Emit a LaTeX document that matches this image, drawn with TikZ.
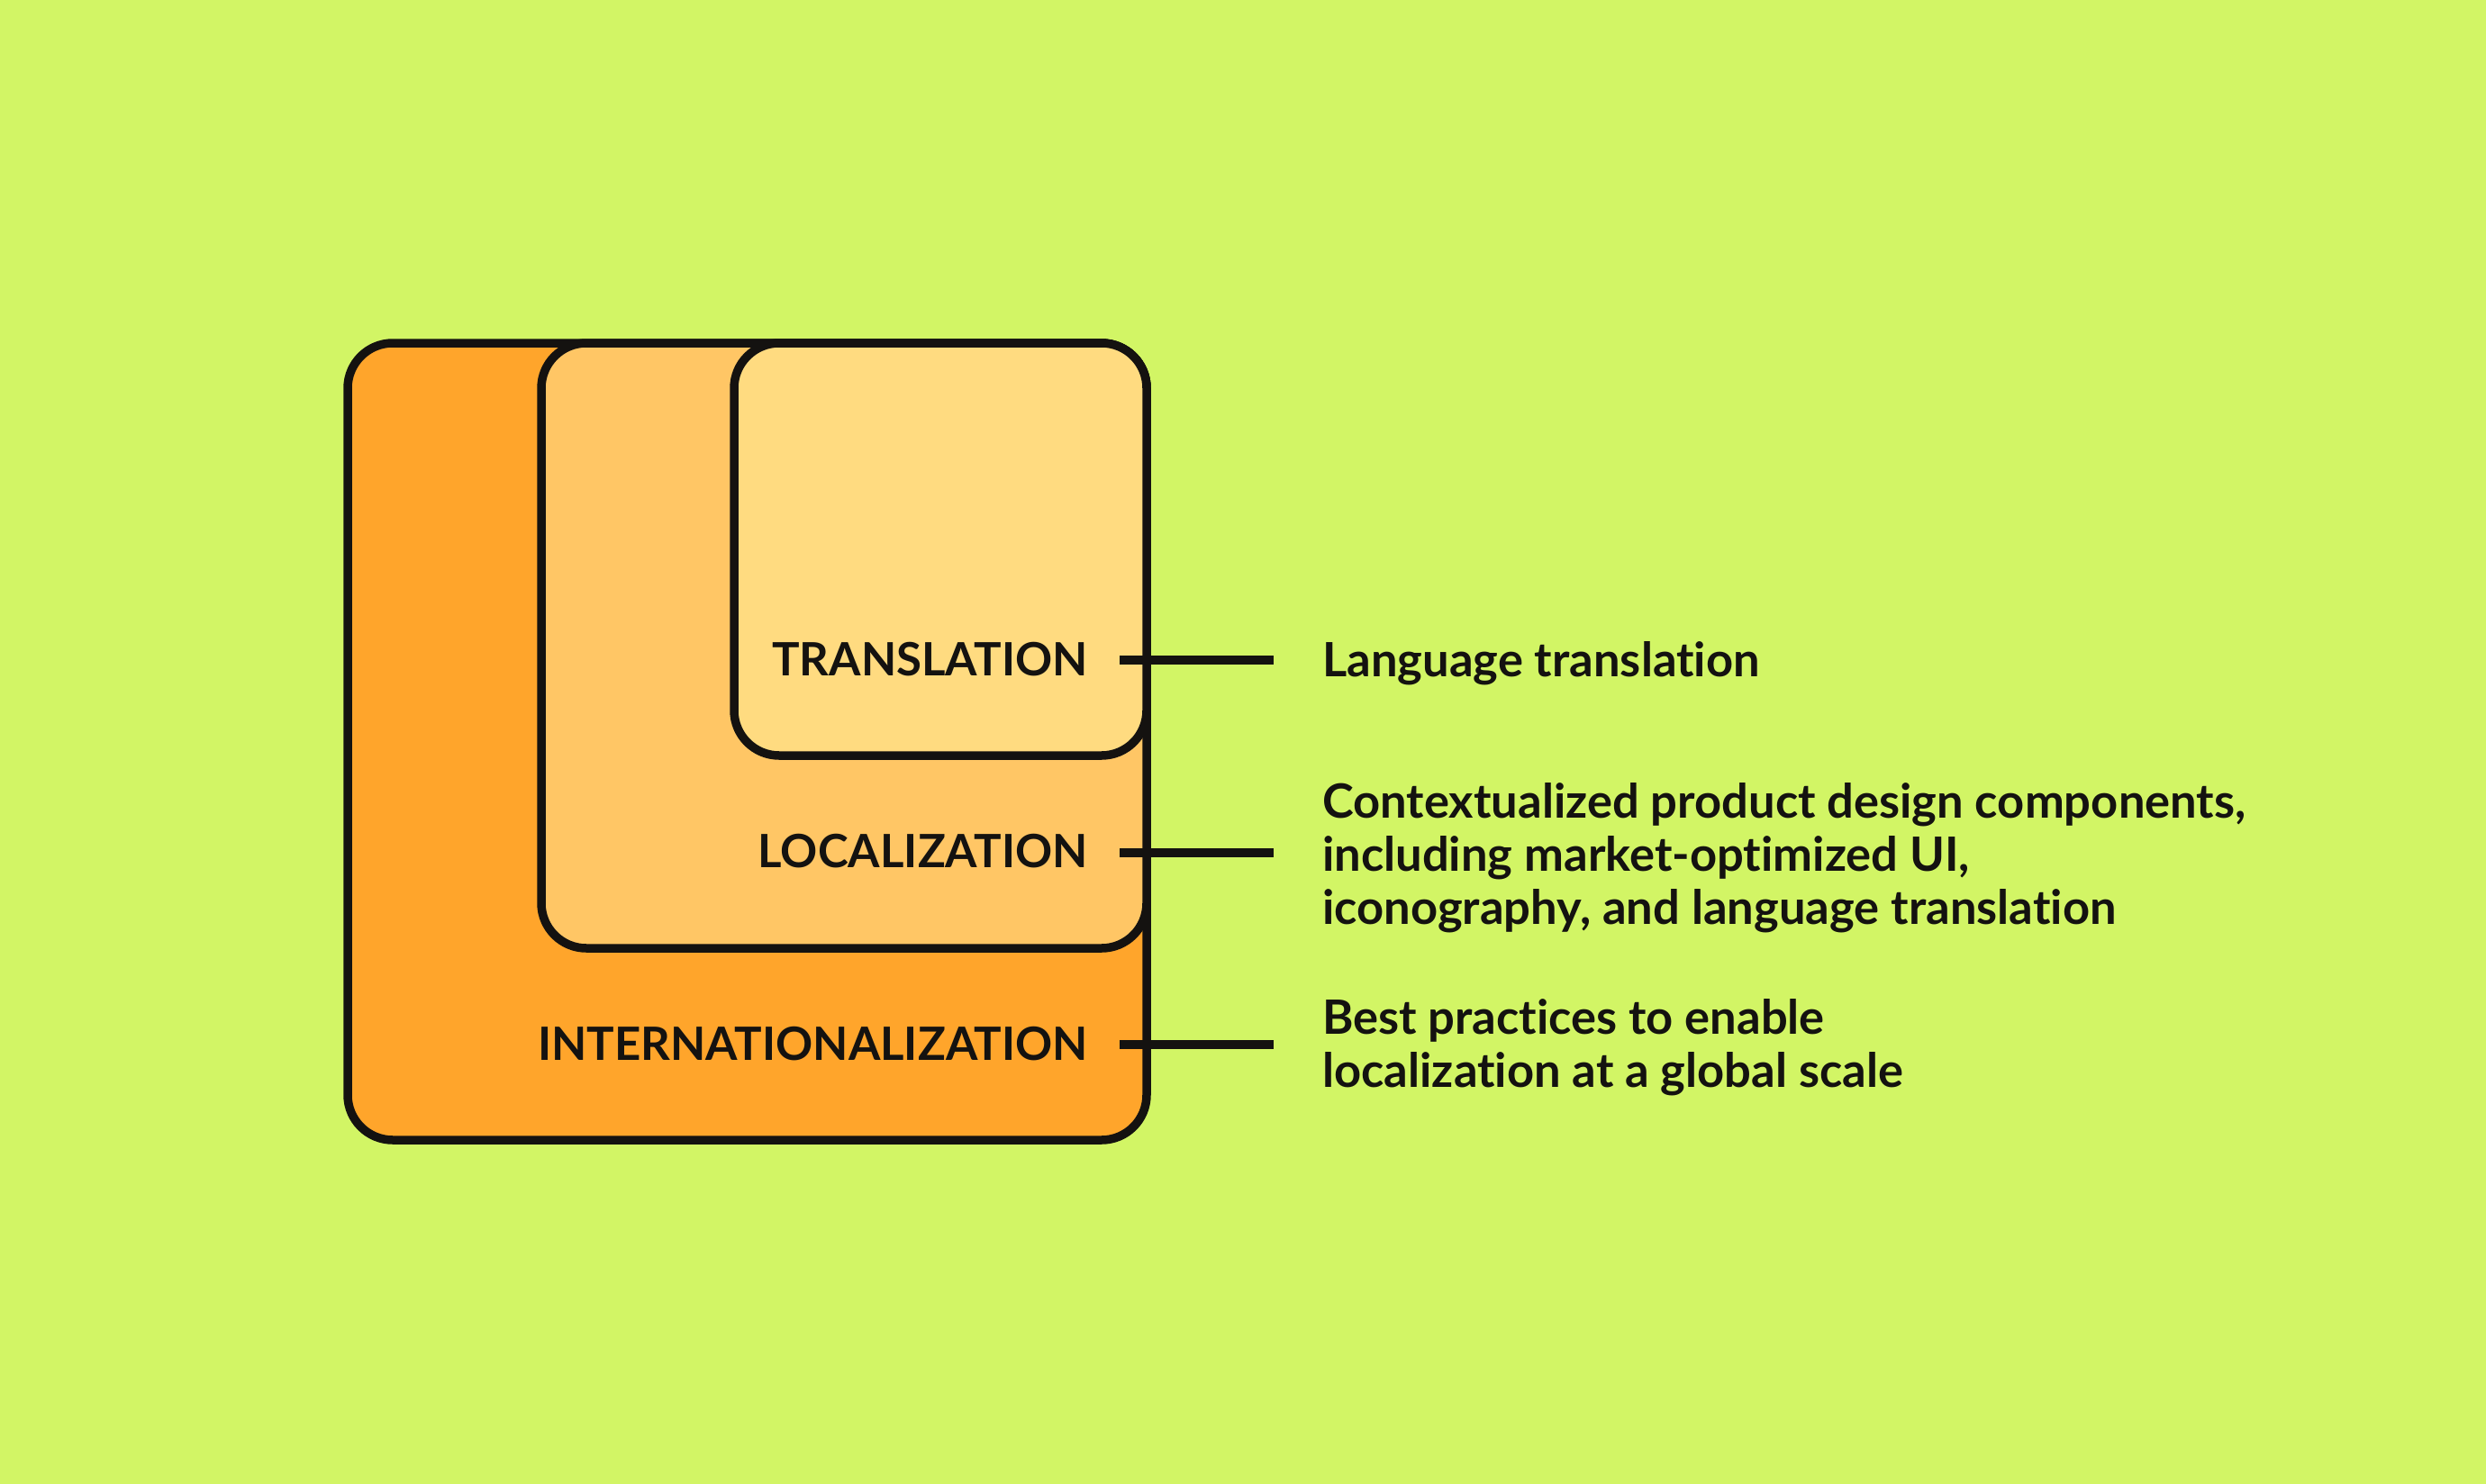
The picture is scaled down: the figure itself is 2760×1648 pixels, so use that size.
\documentclass[tikz,border=0pt]{standalone}
\usepackage{fontspec}
\setmainfont{Lato}[UprightFont=* Bold, Ligatures={NoCommon}]
\usetikzlibrary{calc}
\definecolor{bg}{HTML}{D2F565}
\definecolor{c1}{HTML}{FFA52B}
\definecolor{c2}{HTML}{FFC665}
\definecolor{c3}{HTML}{FFDB80}
\definecolor{ink}{HTML}{141210}
\tikzset{
  layer/.style={draw=ink, line width=9.5pt, rounded corners=50pt},
  lab/.style={inner sep=0pt, anchor=base east, font=\fontsize{51}{59}\selectfont, text=ink},
  desc/.style={inner sep=0pt, anchor=base west, align=left, font=\fontsize{52.5}{59}\selectfont, text=ink},
  conn/.style={draw=ink, line width=9.5pt}
}
\begin{document}
\begin{tikzpicture}[x=1pt,y=-1pt]
\fill[bg] (0,0) rectangle (2760,1648);
\useasboundingbox (0,0) rectangle (2760,1648);
\path[layer, fill=c1] (386,381) rectangle (1273,1266);
\path[layer, fill=c2] (601,381) rectangle (1273,1053);
\path[layer, fill=c3] (815,381) rectangle (1273,839);
\node[lab] (lt) at (1208,750) {TRANSLATION};
\node[lab] (ll) at (1208,963) {LOCALIZATION};
\node[lab] (li) at (1208,1177) {INTERNATIONALIZATION};
\node[desc] (dt) at (1468,751) {Language translation};
\node[desc] (dl) at (1468,1026) {Contextualized product design components,\\including market-optimized UI,\\iconography, and language translation};
\node[desc] (di) at (1468,1207) {Best practices to enable\\localization at a global scale};
\coordinate (at) at (1243,733); \coordinate (bt) at (1414,733);
\coordinate (al) at (1243,947); \coordinate (bl) at (1414,947);
\coordinate (ai) at (1243,1160); \coordinate (bi) at (1414,1160);
\draw[conn] (at) -- (bt);
\draw[conn] (al) -- (bl);
\draw[conn] (ai) -- (bi);
\end{tikzpicture}
\end{document}
